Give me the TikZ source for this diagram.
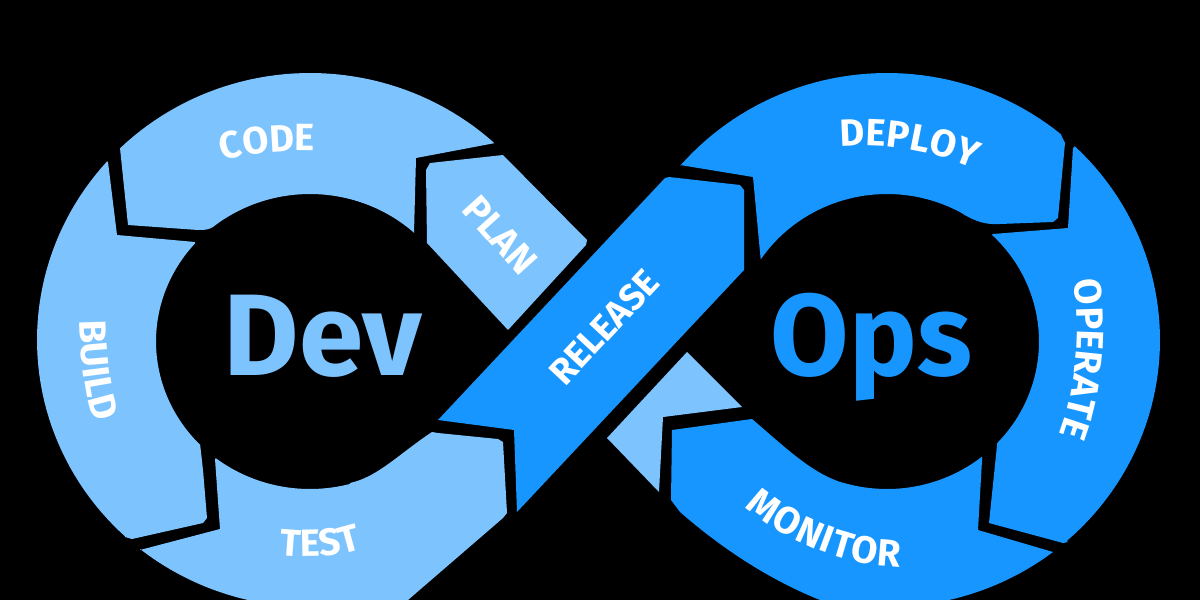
\documentclass[tikz,border=0pt]{standalone}
\usepackage{fontspec}
\setmainfont{Fira Sans}
\usetikzlibrary{decorations.text}
\definecolor{lightblue}{HTML}{7DC4FF}
\definecolor{darkblue}{HTML}{1896FF}
\newcommand{\lab}{\fontsize{38}{38}\selectfont\bfseries\color{white}}
% ellipse arc as a plot: centre x, centre y, rx, ry, from angle, to angle (y axis points down)
\newcommand{\earc}[6]{-- plot[domain=#5:#6,samples=48,variable=\t] ({#1+#3*cos(\t)},{#2+#4*sin(\t)})}
\tikzset{
  x=1pt,y=-1pt,
  lightseg/.style={fill=lightblue},
  darkseg/.style={fill=darkblue},
  steplabel/.style={font=\lab,text=white,inner sep=0pt},
  biglabel/.style={font=\fontsize{116}{116}\selectfont\bfseries,inner sep=0pt,anchor=base},
  curved/.style={decorate,decoration={text along path,text align={fit to path},text={|\lab|#1}}}
}
\begin{document}
\begin{tikzpicture}
\useasboundingbox (0,0) rectangle (1200,600);
\fill[black] (0,0) rectangle (1200,600);
% CODE
\fill[lightseg] (128,225) -- (120,148)
  \earc{310}{340}{273}{267}{-134.1}{-47.5}
  -- (416,158) -- (414,233)
  \earc{310}{341.5}{154}{147.5}{-47.4}{-129}
  .. controls (208,230) and (204,230) .. (198,230) -- cycle;
% BUILD
\fill[lightseg] (108,162) -- (117,235) -- (195,242)
  \earc{310}{341.5}{154}{147.5}{221.6}{135.5}
  -- (203,470) -- (207,518) -- (203,523) -- (132,539) -- (125,537)
  \earc{310}{340}{273}{267}{132.5}{222}
  -- cycle;
% TEST
\fill[lightseg] (215,459) -- (220,529) -- (140,550)
  \earc{310}{340}{273}{267}{128.4}{103}
  -- (408,600) -- (503,518) -- (507,513) -- (503,442) -- (498,439)
  -- (438,433) -- (432,432)
  .. controls (400,453) and (378,477) .. (350,483)
  \earc{310}{341.5}{154}{147.5}{75}{127.7}
  -- cycle;
% PLAN
\fill[lightseg] (426,170) -- (430,163) -- (503,155) -- (587,240) -- (586,245) -- (508,330) -- (427,243) -- cycle;
% tail below RELEASE
\fill[lightseg] (687,352) -- (742,407) -- (663,417) -- (659,492) -- (607,438) -- cycle;
% RELEASE
\fill[darkseg] (665,178) -- (669,177) -- (740,185) -- (744,190) -- (744,270) -- (517,512) -- (514,430) -- (438,420) -- cycle;
% DEPLOY
\fill[darkseg] (680,165)
  \earc{887}{340}{273}{267}{-139.2}{-50.5}
  -- (1065,143) -- (1058,218) -- (1053,222) -- (1000,224)
  .. controls (985,225) and (975,221) .. (963,214)
  \earc{887}{341.5}{152}{147.5}{-59.5}{-146.2}
  -- (753,177) -- cycle;
% OPERATE
\fill[darkseg] (1073,148) -- (1068,228) -- (993,234)
  \earc{887}{341.5}{152}{147.5}{-46.3}{43.5}
  -- (989,523) -- (1063,543) -- (1068,542)
  \earc{887}{340}{273}{267}{48.8}{-46.5}
  -- cycle;
% MONITOR
\fill[darkseg] (672,430) -- (752,419)
  .. controls (785,447) and (815,477) .. (848,484)
  \earc{887}{341.5}{152}{147.5}{105}{51.2}
  -- (978,530) -- (1053,552)
  \earc{887}{340}{273}{267}{52.6}{77}
  -- (820,600)
  .. controls (785,586) and (735,560) .. (680,512)
  -- (671,500) -- cycle;
% big words
\node[biglabel,text=lightblue] (dev) at (323,375) {Dev};
\node[biglabel,text=darkblue,xscale=0.98] (ops) at (871.5,375) {Ops};
% straight labels
\node[steplabel,rotate=-48] (plan) at (500,235) {PLAN};
\node[steplabel,rotate=47,scale=0.96] (release) at (604,327) {RELEASE};
% curved labels (invisible guide paths)
\path[curved=CODE] (223,161) .. controls (250,153) and (285,150) .. (313,151);
\path[curved=TEST] (280,555) .. controls (302,558) and (332,557) .. (353,551);
\path[curved=BUILD] (80,320) .. controls (80,350) and (84,390) .. (92,416);
\path[curved=DEPLOY] (841,147) .. controls (883,143) and (927,150) .. (965,165);
\path[curved=OPERATE] (1073,281) .. controls (1082,325) and (1076,385) .. (1062,426);
\path[curved=MONITOR] (745,507) .. controls (785,540) and (840,565) .. (900,567);
\end{tikzpicture}
\end{document}
